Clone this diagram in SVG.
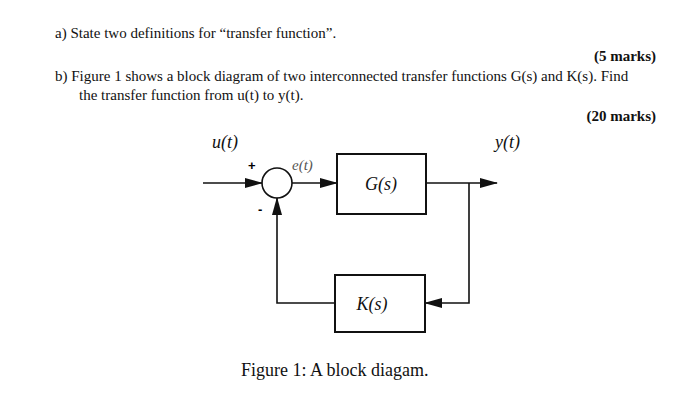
<svg xmlns="http://www.w3.org/2000/svg" width="700" height="404" viewBox="0 0 700 404">
<style>
.t{font-family:"Liberation Serif",serif;font-size:15px;fill:#111}
.m{font-family:"Liberation Serif",serif;font-style:italic;font-size:18px;fill:#111}
.b{fill:none;stroke:#111;stroke-width:2}
.c{fill:none;stroke:#111;stroke-width:1.6}
</style>
<defs><marker id="a" markerWidth="10" markerHeight="8" refX="9" refY="4" orient="auto" markerUnits="userSpaceOnUse"><path d="M0,0L10,4L0,8z" fill="#111"/></marker>
<marker id="a2" markerWidth="18" markerHeight="10" refX="17" refY="5" orient="auto" markerUnits="userSpaceOnUse"><path d="M0,0L18,5L0,10z" fill="#111"/></marker></defs>
<rect width="700" height="404" fill="#fff"/>
<text class="t" x="55" y="38">a)  State two definitions for “transfer function”.</text>
<text class="t" x="656" y="61" text-anchor="end" font-weight="bold">(5 marks)</text>
<text class="t" x="55" y="81">b)  Figure 1 shows a block diagram of two interconnected transfer functions G(s) and K(s). Find</text>
<text class="t" x="79" y="100">the transfer function from u(t) to y(t).</text>
<text class="t" x="656" y="121" text-anchor="end" font-weight="bold">(20 marks)</text>
<g id="connectors">
<path class="c" d="M203,183H262" marker-end="url(#a2)"/>
<path class="c" d="M292,183H337" marker-end="url(#a2)"/>
<path class="c" d="M426,183H497" marker-end="url(#a2)"/>
<path class="c" d="M469,183V303H425" marker-end="url(#a2)"/>
<path class="c" d="M335,303H277V198" marker-end="url(#a2)"/>
</g>
<g id="sum"><circle class="c" cx="277" cy="183" r="15"/>
<text x="248" y="170" font-family="Liberation Sans,sans-serif" font-size="13" font-weight="bold">+</text>
<text x="258" y="214" font-family="Liberation Sans,sans-serif" font-size="13" font-weight="bold">-</text></g>
<g id="G"><rect class="b" x="337" y="154" width="89" height="60"/><text class="m" x="381" y="190" text-anchor="middle">G(s)</text></g>
<g id="K"><rect class="b" x="335" y="275" width="90" height="57"/><text class="m" x="372" y="310" text-anchor="middle">K(s)</text></g>
<text class="m" x="212" y="148">u(t)</text>
<text class="m" x="495" y="148">y(t)</text>
<text x="292" y="170" font-family="Liberation Serif,serif" font-style="italic" font-size="15" fill="#555">e(t)</text>
<text x="241" y="376" font-family="Liberation Serif,serif" font-size="18" fill="#111">Figure 1:  A block diagam.</text>
</svg>
